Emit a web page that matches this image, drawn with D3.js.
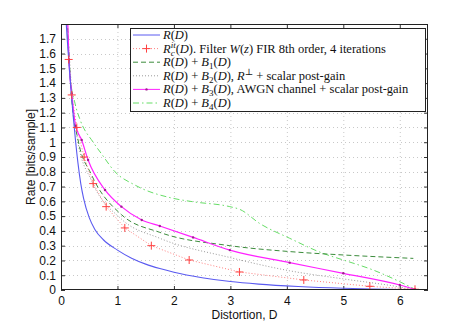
<!DOCTYPE html>
<html><head><meta charset="utf-8">
<script src="https://cdn.jsdelivr.net/npm/d3@7"></script>
<style>body{margin:0;background:#fff}svg{display:block}</style>
</head><body>
<svg id="c" width="474" height="326"></svg>
<script>
// ---- data ----
const xTicks = [0,1,2,3,4,5,6];
const yTicks = [0,0.1,0.2,0.3,0.4,0.5,0.6,0.7,0.8,0.9,1,1.1,1.2,1.3,1.4,1.5,1.6,1.7];

const rdD = [0.088,0.11,0.14,0.18,0.22,0.26,0.3,0.35,0.4,0.5,0.6,0.75,1.0,1.25,1.5,1.75,2.0,2.5,3.0,3.5,4.2,5.0,5.5,6.0,6.28];
const rdR = [1.83,1.70,1.54,1.34,1.16,1.0,0.86,0.72,0.62,0.49,0.41,0.34,0.27,0.215,0.175,0.145,0.12,0.083,0.057,0.04,0.024,0.012,0.007,0.003,0];

const rcD = [0.136,0.19,0.28,0.41,0.57,0.80,1.13,1.60,2.27,3.16,4.30,5.47,6.27];
const rcR = [1.56,1.32,1.10,0.90,0.72,0.564,0.42,0.30,0.203,0.122,0.068,0.025,0.005];

const b1D = [0.11,0.19,0.3,0.54,1.07,1.75,2.99,4.05,5.0,6.24];
const b1R = [1.83,1.29,1.02,0.78,0.51,0.39,0.30,0.26,0.237,0.214];

const b2D = [0.11,0.2,0.3,0.54,1.07,1.75,2.99,4.05,5.0,6.0,6.27];
const b2R = [1.83,1.3,1.0,0.74,0.48,0.35,0.22,0.13,0.075,0.02,0.0];

const b3D = [0.118,0.14,0.19,0.26,0.366,0.48,0.78,1.07,1.43,1.75,2.34,2.99,4.05,5.0,6.0,6.27];
const b3R = [1.83,1.56,1.33,1.11,1.015,0.88,0.677,0.564,0.474,0.433,0.356,0.27,0.185,0.113,0.034,0.005];

const b4D = [0.1,0.16,0.25,0.34,0.57,0.72,0.956,1.31,1.99,2.34,2.99,3.17,3.52,4.05,4.64,5.0,5.53,6.0,6.27];
const b4R = [1.83,1.45,1.26,1.15,1.0,0.92,0.80,0.71,0.62,0.597,0.564,0.545,0.45,0.35,0.248,0.203,0.135,0.056,0.005];

// legend labels: segments [text, style]; style: i=italic, sub, sup, back=stack over previous script
const legendLabels = [
  [["R","i"],["("],["D","i"],[")"]],
  [["R","i"],["c","i sub"],["it","i sup back"],["("],["D","i"],[")"],[". Filter "],["W","i"],["("],["z","i"],[") FIR 8th order, 4 iterations"]],
  [["R","i"],["("],["D","i"],[") + "],["B","i"],["1","sub"],["("],["D","i"],[")"]],
  [["R","i"],["("],["D","i"],[") + "],["B","i"],["2","sub"],["("],["D","i"],["), "],["R","i"],["⊥","sup"],[" + scalar post-gain"]],
  [["R","i"],["("],["D","i"],[") + "],["B","i"],["3","sub"],["("],["D","i"],["), AWGN channel + scalar post-gain"]],
  [["R","i"],["("],["D","i"],[") + "],["B","i"],["4","sub"],["("],["D","i"],[")"]]
];

// ---- layout ----
const svg = d3.select("#c");
const L = 61, R = 428, T = 24, B = 290;
const x = d3.scaleLinear().domain([0,6.5]).range([L,R]);
const y = d3.scaleLinear().domain([0,1.8]).range([B,T]);
const fmt = d => String(+d.toFixed(1));

svg.append("rect").attr("x",L).attr("y",T).attr("width",R-L).attr("height",B-T).attr("fill","#fff");

// grid
const grid = svg.append("g").attr("stroke","#c8c8c8").attr("stroke-width",1).attr("stroke-dasharray","1,3");
xTicks.slice(1).forEach(t=>grid.append("line").attr("x1",x(t)+0.5).attr("x2",x(t)+0.5).attr("y1",T).attr("y2",B));
yTicks.slice(1).forEach(t=>grid.append("line").attr("x1",L).attr("x2",R).attr("y1",Math.round(y(t))+0.5).attr("y2",Math.round(y(t))+0.5));

const font = "'Liberation Sans', Arial, sans-serif";
const axB = svg.append("g").attr("transform",`translate(0,${B})`)
  .call(d3.axisBottom(x).tickValues(xTicks).tickFormat(fmt).tickSizeInner(-4).tickSizeOuter(0).tickPadding(6));
const axT = svg.append("g").attr("transform",`translate(0,${T})`)
  .call(d3.axisTop(x).tickValues(xTicks).tickFormat("").tickSizeInner(-4).tickSizeOuter(0));
const axL = svg.append("g").attr("transform",`translate(${L},0)`)
  .call(d3.axisLeft(y).tickValues(yTicks).tickFormat(fmt).tickSizeInner(-4).tickSizeOuter(0).tickPadding(5));
const axR = svg.append("g").attr("transform",`translate(${R},0)`)
  .call(d3.axisRight(y).tickValues(yTicks).tickFormat("").tickSizeInner(-4).tickSizeOuter(0));
[axB,axT,axL,axR].forEach(a=>{
  a.selectAll("path").remove();
  a.selectAll("line").attr("stroke","#333");
  a.selectAll("text").attr("fill","#111").style("font-family",font).style("font-size","12px");
});

// clip
svg.append("clipPath").attr("id","clip").append("rect").attr("x",L).attr("y",T).attr("width",R-L).attr("height",B-T);
const plot = svg.append("g").attr("clip-path","url(#clip)");
const line = d3.line().x(d=>x(d[0])).y(d=>y(d[1])).curve(d3.curveMonotoneX);
const zip = (a,b)=>a.map((v,i)=>[v,b[i]]);

const colBlue="#5a5af0", colRed="#ff4040", colDG="#3c8c3c", colGrey="#999", colMag="#ff22ff", colLG="#66dd66";

plot.append("path").datum(zip(b4D,b4R)).attr("d",line).attr("fill","none").attr("stroke",colLG).attr("stroke-width",1).attr("stroke-dasharray","6,3,1.5,3");
plot.append("path").datum(zip(b2D,b2R)).attr("d",line).attr("fill","none").attr("stroke",colGrey).attr("stroke-width",1).attr("stroke-dasharray","1,2");
plot.append("path").datum(zip(b1D,b1R)).attr("d",line).attr("fill","none").attr("stroke",colDG).attr("stroke-width",1).attr("stroke-dasharray","5,3");
plot.append("path").datum(zip(rcD,rcR)).attr("d",d3.line().x(d=>x(d[0])).y(d=>y(d[1]))).attr("fill","none").attr("stroke","#ff8080").attr("stroke-width",1).attr("stroke-dasharray","1,2");
plot.append("path").datum(zip(b3D,b3R)).attr("d",line).attr("fill","none").attr("stroke",colMag).attr("stroke-width",1.2);
plot.selectAll(".md").data(zip(b3D,b3R)).join("circle").attr("cx",d=>x(d[0])).attr("cy",d=>y(d[1])).attr("r",1.2).attr("fill","#a0208f");
plot.append("path").datum(zip(rdD,rdR)).attr("d",line).attr("fill","none").attr("stroke",colBlue).attr("stroke-width",1.1);
const cross = (g,cx,cy,s)=>{g.append("path").attr("d",`M${cx-s},${cy}H${cx+s}M${cx},${cy-s}V${cy+s}`).attr("stroke",colRed).attr("stroke-width",1);};
zip(rcD,rcR).forEach(d=>cross(plot,x(d[0]),y(d[1]),4));

// frame
svg.append("rect").attr("x",L+0.5).attr("y",T+0.5).attr("width",R-L-1).attr("height",B-T-1).attr("fill","none").attr("stroke","#222").attr("stroke-width",1);

// axis labels
svg.append("text").attr("x",(L+R)/2).attr("y",319).attr("text-anchor","middle").style("font-family",font).style("font-size","12px").attr("fill","#111").text("Distortion, D");
svg.append("text").attr("transform",`translate(35,${(T+B)/2}) rotate(-90)`).attr("text-anchor","middle").style("font-family",font).style("font-size","12px").attr("fill","#111").text("Rate [bits/sample]");

// legend
const lg = svg.append("g");
lg.append("rect").attr("x",130.5).attr("y",28.5).attr("width",295).attr("height",83).attr("fill","#fff").attr("stroke","#222").attr("stroke-width",1);
const rowY = i => 35 + i*13.6;
const styles = [
  {c:colBlue, dash:null},
  {c:"#ff8080", dash:"1,2", cross:true},
  {c:colDG, dash:"5,3"},
  {c:colGrey, dash:"1,2"},
  {c:colMag, dash:null, dot:true},
  {c:colLG, dash:"6,3,1.5,3"}
];
styles.forEach((s,i)=>{
  const yy = rowY(i);
  const ln = lg.append("line").attr("x1",133).attr("x2",160).attr("y1",yy).attr("y2",yy).attr("stroke",s.c).attr("stroke-width",1);
  if (s.dash) ln.attr("stroke-dasharray",s.dash);
  if (s.cross) cross(lg,146.5,yy,4);
  if (s.dot) lg.append("circle").attr("cx",146.5).attr("cy",yy).attr("r",1.2).attr("fill","#a0208f");
  const t = lg.append("text").attr("x",163).attr("y",yy+4).style("font-family","'Liberation Serif','DejaVu Serif',serif").style("font-size","12.5px").attr("fill","#111");
  let cur = 0, lastW = 0;
  legendLabels[i].forEach(seg=>{
    const st = (seg[1]||"").split(" ");
    const ts = t.append("tspan").text(seg[0]);
    let target = 0;
    if (st.includes("sub")) target = 3;
    if (st.includes("sup")) target = -5;
    ts.attr("dy", target - cur);
    cur = target;
    if (st.includes("i")) ts.style("font-style","italic");
    if (st.includes("sub")||st.includes("sup")) ts.style("font-size","9px");
    if (st.includes("back")) ts.attr("dx", -lastW);
    lastW = ts.node().getComputedTextLength();
  });
});
</script>
</body></html>
